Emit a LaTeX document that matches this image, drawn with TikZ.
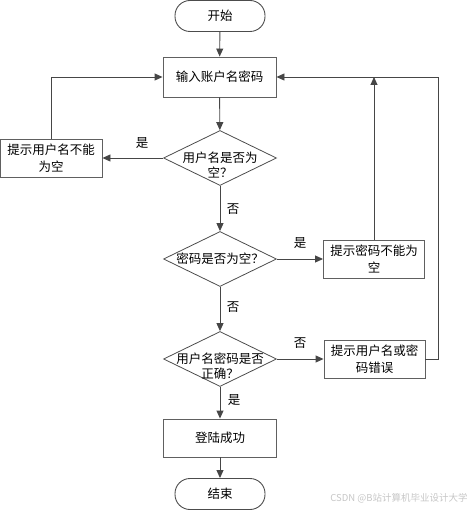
\documentclass[tikz,border=0pt]{standalone}
\usepackage{fontspec}
\newfontfamily\cjk{Noto Sans CJK SC}
\usetikzlibrary{shapes.geometric,arrows.meta}
\begin{document}
\begin{tikzpicture}[x=1pt,y=-1pt,
  font=\cjk\fontsize{12.5}{17.5}\selectfont,
  every node/.style={text=black},
  box/.style={draw=gray!75!black, line width=0.9pt, minimum width=113pt, minimum height=40pt, inner sep=0pt, align=center},
  sbox/.style={box, minimum width=101pt, minimum height=38pt},
  term/.style={draw=gray!60!black, line width=0.9pt, rounded corners=15pt, minimum width=90pt, minimum height=31pt, inner sep=0pt},
  dec/.style={diamond, draw=gray!60!black, line width=0.8pt, minimum width=113pt, minimum height=55pt, inner sep=0pt},
  arr/.style={draw=gray!55!black, line width=0.9pt, -{Triangle[length=8pt,width=7pt]}},
  lab/.style={inner sep=0pt, font=\cjk\fontsize{12.5}{15}\selectfont}]
\useasboundingbox (0,0) rectangle (474,510);

\node[term] (start) at (220,16) {开始};
\node[box] (in) at (219.5,77) {输入账户名密码};
\node[dec] (d1) at (220,158) {};
\node[lab, align=center] (t1) at (220,165) {用户名是否为\\空？};
\node[sbox, minimum width=102pt] (lb) at (51,158) {提示用户名不能\\为空};
\node[dec] (d2) at (220,259) {};
\node[lab] (t2) at (220,259) {密码是否为空？};
\node[sbox] (rb1) at (374,259) {提示密码不能为\\空};
\node[dec] (d3) at (220,359) {};
\node[lab, align=center] (t3) at (220,366) {用户名密码是否\\正确？};
\node[sbox] (rb2) at (374.5,359) {提示用户名或密\\码错误};
\node[box, minimum height=38pt] (ok) at (220,438) {登陆成功};
\node[term] (end) at (220,494) {结束};

\node[lab] (l1) at (142,143) {是};
\node[lab] (l2) at (233,209) {否};
\node[lab] (l3) at (300,243) {是};
\node[lab] (l4) at (233,307) {否};
\node[lab] (l5) at (300,343) {否};
\node[lab] (l6) at (234,400) {是};

\node[inner sep=0pt, text=gray!45, font=\cjk\fontsize{9.5}{10}\selectfont] (wm) at (399,498) {CSDN @B站计算机毕业设计大学};

\draw[arr] (start) -- (in);
\draw[arr] (in) -- (d1);
\draw[arr] (d1.west) -- (lb.east);
\draw[arr] (lb.north) |- (in.west);
\draw[arr] (d1) -- (d2);
\draw[arr] (d2.east) -- (rb1.west);
\draw[arr] (rb1.north) -- (rb1.north |- in.east);
\draw[arr] (d2) -- (d3);
\draw[arr] (d3.east) -- (rb2.west);
\draw[arr] (rb2.east) -- ++(13,0) |- (in.east);
\draw[arr] (d3) -- (ok);
\draw[arr] (ok) -- (end);
\end{tikzpicture}
\end{document}
